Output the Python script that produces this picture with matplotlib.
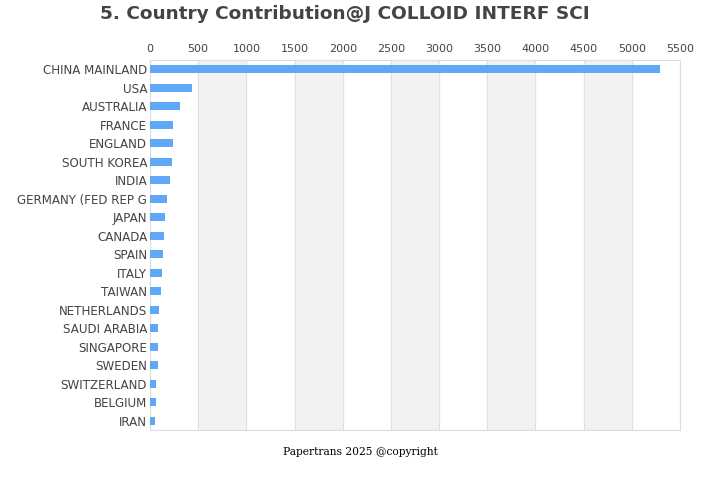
import matplotlib
matplotlib.use("Agg")
import matplotlib.pyplot as plt

countries = ["CHINA MAINLAND", "USA", "AUSTRALIA", "FRANCE", "ENGLAND",
             "SOUTH KOREA", "INDIA", "GERMANY (FED REP G", "JAPAN", "CANADA",
             "SPAIN", "ITALY", "TAIWAN", "NETHERLANDS", "SAUDI ARABIA",
             "SINGAPORE", "SWEDEN", "SWITZERLAND", "BELGIUM", "IRAN"]
counts = [5290, 436, 311, 239, 238, 228, 207, 176, 156, 145,
          135, 124, 114, 93, 83, 83, 82, 62, 62, 52]
xticks = list(range(0, 5501, 500))

fig = plt.figure(figsize=(7.2, 4.8), dpi=100)
ax = fig.add_axes([150/720, 50/480, 530/720, 370/480])

# alternating shaded bands
for i in range(len(xticks) - 1):
    if i % 2 == 1:
        ax.axvspan(xticks[i], xticks[i + 1], color="#f2f2f2", zorder=0)
for x in xticks:
    ax.axvline(x, color="#e0e0e0", lw=0.8, zorder=1)

y = list(range(len(countries)))
ax.barh(y, counts, height=0.45, color="#5fa8f5", zorder=3)
ax.set_ylim(len(countries) - 0.5, -0.5)
ax.set_xlim(0, 5500)
ax.set_yticks(y)
ax.set_yticklabels(countries, fontsize=8.6, color="#444444")
ax.set_xticks(xticks)
ax.xaxis.tick_top()
ax.tick_params(axis="x", labelsize=8, colors="#444444", length=0, pad=4)
ax.tick_params(axis="y", length=0, pad=2)
for s in ax.spines.values():
    s.set_color("#dddddd")

fig.text(0.479, 0.97, "5. Country Contribution@J COLLOID INTERF SCI",
         ha="center", va="center", fontsize=13.3, fontweight="bold", color="#444444")
fig.text(0.5, 0.058, "Papertrans 2025 @copyright", ha="center", va="center",
         fontsize=7.7, family="serif", color="black")

fig.savefig("out.png", dpi=100)
